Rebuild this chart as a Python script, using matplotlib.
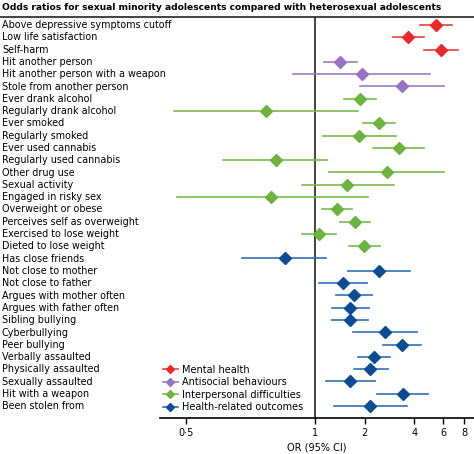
import matplotlib.pyplot as plt
import numpy as np
from matplotlib.lines import Line2D

labels = ["Above depressive symptoms cutoff", "Low life satisfaction", "Self-harm",
          "Hit another person", "Hit another person with a weapon", "Stole from another person",
          "Ever drank alcohol", "Regularly drank alcohol", "Ever smoked", "Regularly smoked",
          "Ever used cannabis", "Regularly used cannabis", "Other drug use", "Sexual activity",
          "Engaged in risky sex", "Overweight or obese", "Perceives self as overweight",
          "Exercised to lose weight", "Dieted to lose weight", "Has close friends",
          "Not close to mother", "Not close to father", "Argues with mother often",
          "Argues with father often", "Sibling bullying", "Cyberbullying", "Peer bullying",
          "Verbally assaulted", "Physically assaulted", "Sexually assaulted",
          "Hit with a weapon", "Been stolen from"]
group = [0]*3 + [1]*3 + [2]*13 + [3]*13
est = [5.44, 3.66, 5.81, 1.42, 1.91, 3.38, 1.86, 0.77, 2.43, 1.84, 3.21, 0.81, 2.71, 1.57,
       0.79, 1.36, 1.75, 1.05, 1.99, 0.85, 2.43, 1.47, 1.72, 1.62, 1.62, 2.64, 3.38, 2.26,
       2.16, 1.62, 3.39, 2.15]
lo = [4.35, 2.95, 4.56, 1.13, 0.89, 1.88, 1.49, 0.47, 1.94, 1.12, 2.25, 0.61, 1.21, 0.93,
      0.476, 1.10, 1.41, 0.93, 1.60, 0.675, 1.59, 1.06, 1.34, 1.26, 1.27, 1.69, 2.58, 1.81,
      1.71, 1.16, 2.38, 1.30]
hi = [6.8, 4.58, 7.37, 1.80, 4.96, 6.03, 2.34, 1.82, 3.04, 3.07, 4.6, 1.18, 6.07, 3.01,
      2.08, 1.68, 2.15, 1.34, 2.48, 1.17, 3.74, 2.07, 2.22, 2.12, 2.09, 4.15, 4.41, 2.86,
      2.77, 2.29, 4.85, 3.6]
group_names = ["Mental health", "Antisocial behaviours", "Interpersonal difficulties",
               "Health-related outcomes"]
marker_colors = ["#e52b2b", "#9874c0", "#6cb33f", "#0d4c92"]
line_colors = ["#e84040", "#9d7cc4", "#79bb4e", "#2f6fb8"]
xticks = [0.5, 1, 2, 4, 6, 8]
xticklabels = ["0·5", "1", "2", "4", "6", "8"]

# axis is log2 but the part below 1 is stretched
k = 129 / 49.5
def fwd(x):
    x = np.maximum(np.asarray(x, float), 1e-9)
    l = np.log2(x)
    return np.where(l < 0, l * k, l)
def inv(t):
    t = np.asarray(t, float)
    return np.where(t < 0, 2 ** (t / k), 2 ** t)

W, H = 474, 454
fig = plt.figure(figsize=(W/100, H/100), dpi=100)
ax = fig.add_axes([160/W, 1-418/H, 1-160/W, (418-17)/H])
ax.set_xscale('function', functions=(fwd, inv))
ax.set_xlim(inv(-1.2*k), inv(3.2))

y = np.arange(len(labels))
for i in range(len(labels)):
    g = group[i]
    ax.plot([lo[i], hi[i]], [y[i], y[i]], color=line_colors[g], lw=1.2, zorder=2)
    ax.plot(est[i], y[i], marker='D', ms=6, color=marker_colors[g], zorder=3)
    fig.text(2/W, 1-(25+i*12.3)/H, labels[i], fontsize=6.9, va='center', ha='left')

ax.axvline(1, color='#222222', lw=1.2, zorder=1)
ax.set_ylim(31.98, -0.65)
ax.set_yticks([])
for s in ['top', 'right', 'left']:
    ax.spines[s].set_visible(False)
ax.spines['bottom'].set_linewidth(1.2)
ax.set_xticks(xticks)
ax.set_xticklabels(xticklabels, fontsize=7)
ax.xaxis.set_minor_locator(plt.NullLocator())
ax.tick_params(axis='x', length=4, width=1)
ax.set_xlabel("OR (95% CI)", fontsize=7, labelpad=3)

handles = [Line2D([0], [0], color=line_colors[g], marker='D', ms=4,
                  markerfacecolor=marker_colors[g], markeredgecolor=marker_colors[g], lw=1.2)
           for g in range(4)]
ax.legend(handles, group_names, loc='lower left', bbox_to_anchor=(-0.01, 0.0),
          frameon=False, fontsize=7, handlelength=1.6, handletextpad=0.4,
          borderaxespad=0.2, labelspacing=0.25)

fig.add_artist(Line2D([0, 1], [1-17/H, 1-17/H], color='#222222', lw=1.2))
fig.text(2/W, 1-7/H, "Odds ratios for sexual minority adolescents compared with heterosexual adolescents",
         fontsize=6.6, fontweight='bold', va='center', ha='left')

fig.savefig('out.png', dpi=100)
